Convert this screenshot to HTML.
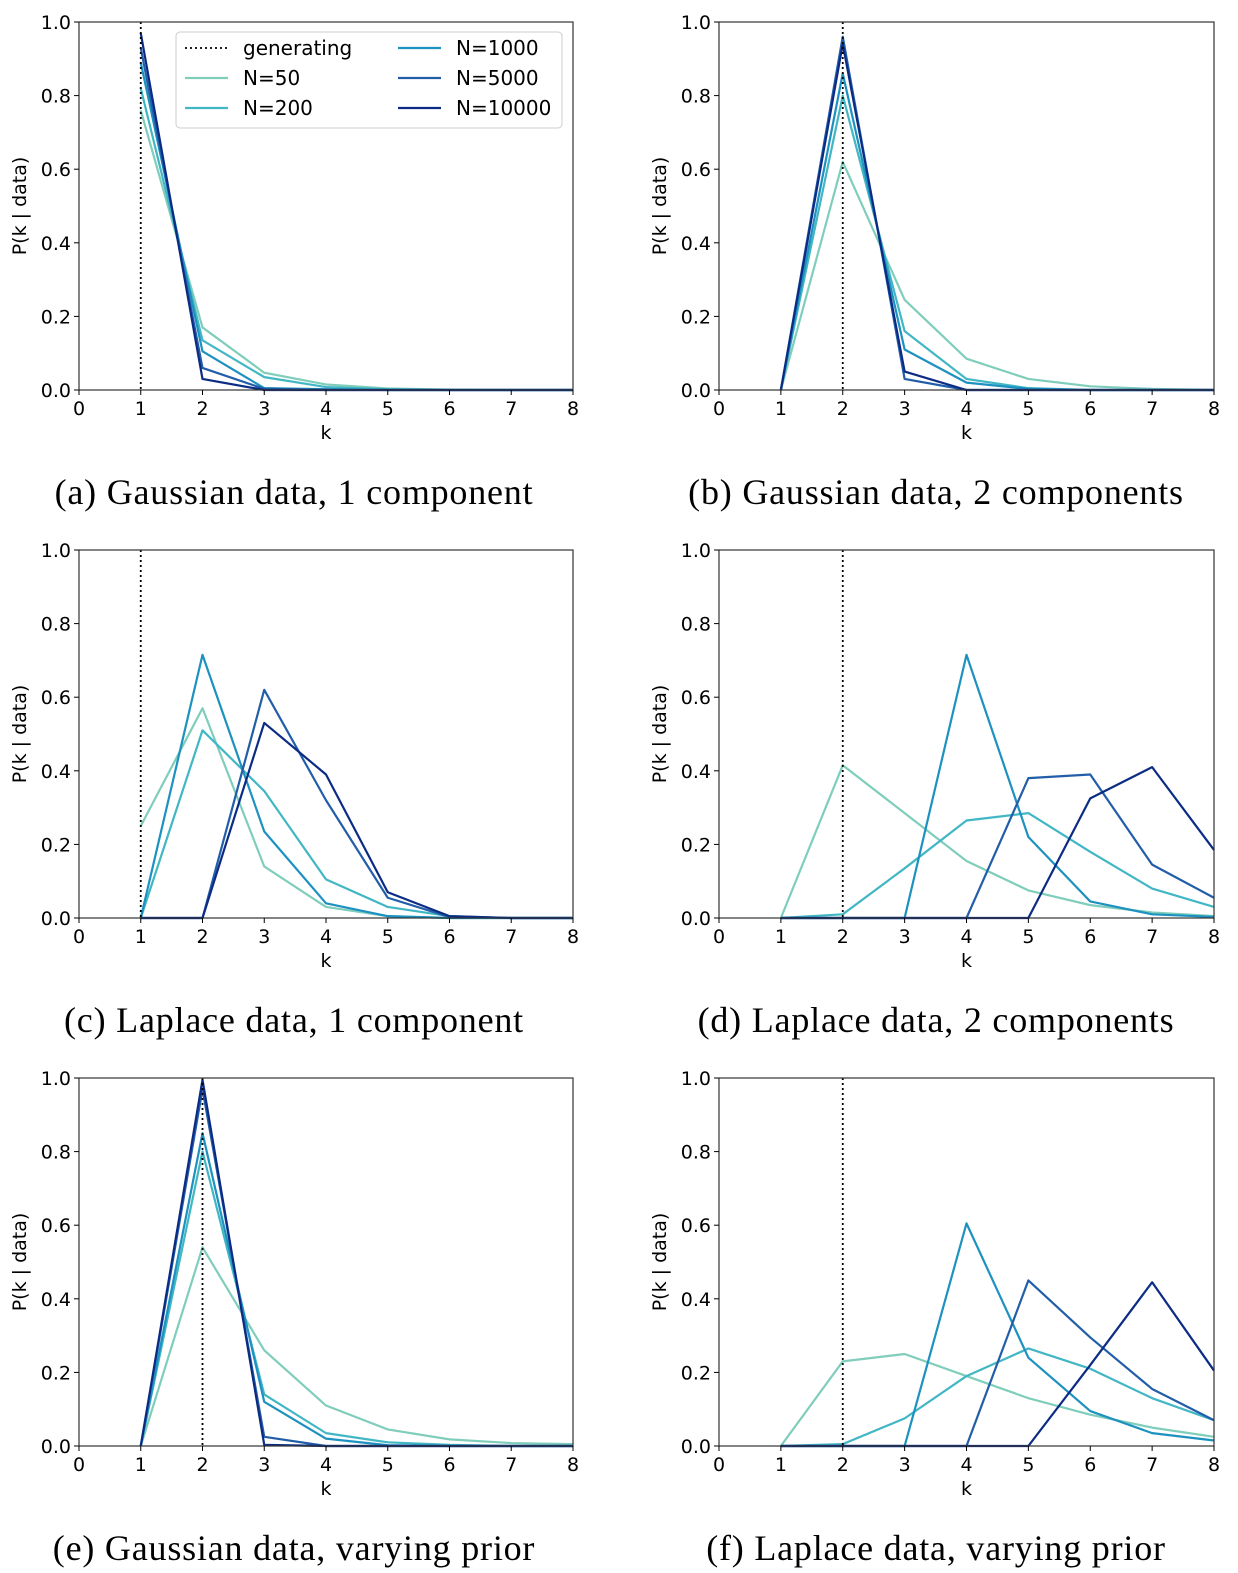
<!DOCTYPE html>
<html><head><meta charset="utf-8"><style>
html,body{margin:0;padding:0;background:#fff;}
svg{display:block;}
.tick{font-family:"DejaVu Sans","Liberation Sans",sans-serif;font-size:19px;fill:#000;}
.cap{font-family:"Liberation Serif","DejaVu Serif",serif;font-size:36px;letter-spacing:0.8px;fill:#000;}
.leg{font-family:"DejaVu Sans","Liberation Sans",sans-serif;font-size:20px;fill:#000;}
</style></head><body>
<svg id="fig" width="1238" height="1573" viewBox="0 0 1238 1573" xmlns="http://www.w3.org/2000/svg"></svg>
<script>
const kValues=[1,2,3,4,5,6,7,8];
const seriesNames=["N=50","N=200","N=1000","N=5000","N=10000"];
const seriesColors=["#7fcdbb","#41b6c4","#1d91c0","#225ea8","#0c2c84"];
const xTicks=[0,1,2,3,4,5,6,7,8];
const yTicks=[0,0.2,0.4,0.6,0.8,1.0];
const yTickLabels=["0.0","0.2","0.4","0.6","0.8","1.0"];
const captions=["(a) Gaussian data, 1 component","(b) Gaussian data, 2 components","(c) Laplace data, 1 component","(d) Laplace data, 2 components","(e) Gaussian data, varying prior","(f) Laplace data, varying prior"];
const generatingK=[1,2,1,2,2,2];
const panelA=[[0.76,0.17,0.047,0.015,0.004,0.001,0,0],[0.82,0.135,0.035,0.008,0.002,0,0,0],[0.89,0.105,0.005,0.002,0,0,0,0],[0.93,0.06,0.003,0,0,0,0,0],[0.97,0.03,0,0,0,0,0,0]];
const panelB=[[0,0.62,0.245,0.085,0.03,0.01,0.003,0],[0,0.80,0.16,0.03,0.005,0,0,0],[0,0.86,0.11,0.02,0.003,0,0,0],[0,0.96,0.03,0,0,0,0,0],[0,0.94,0.05,0,0,0,0,0]];
const panelC=[[0.25,0.57,0.14,0.03,0.005,0,0,0],[0,0.51,0.345,0.105,0.03,0.005,0,0],[0,0.715,0.235,0.04,0.005,0,0,0],[0,0,0.62,0.32,0.055,0.003,0,0],[0,0,0.53,0.39,0.07,0.005,0,0]];
const panelD=[[0,0.415,0.285,0.155,0.075,0.035,0.015,0.005],[0,0.01,0.135,0.265,0.285,0.18,0.08,0.03],[0,0,0,0.715,0.22,0.045,0.01,0.003],[0,0,0,0,0.38,0.39,0.145,0.055],[0,0,0,0,0,0.325,0.41,0.185]];
const panelE=[[0,0.54,0.26,0.11,0.045,0.018,0.008,0.005],[0,0.80,0.14,0.035,0.01,0.003,0,0],[0,0.85,0.12,0.02,0.002,0,0,0],[0,0.97,0.025,0,0,0,0,0],[0,0.995,0.003,0,0,0,0,0]];
const panelF=[[0,0.23,0.25,0.19,0.13,0.085,0.05,0.025],[0,0.005,0.075,0.19,0.265,0.21,0.13,0.07],[0,0,0,0.605,0.24,0.095,0.035,0.015],[0,0,0,0,0.45,0.295,0.155,0.07],[0,0,0,0,0,0.22,0.445,0.205]];
const panels=[panelA,panelB,panelC,panelD,panelE,panelF];

const NS="http://www.w3.org/2000/svg";
const svg=document.getElementById('fig');
function mk(tag,attrs,parent){const e=document.createElementNS(NS,tag);for(const k in attrs)e.setAttribute(k,attrs[k]);(parent||svg).appendChild(e);return e;}
const lefts=[79,719], rights=[573,1214], tops=[22,550,1078], bottoms=[390,918,1446];
const letters=["a","b","c","d","e","f"];
panels.forEach((data,i)=>{
  const col=i%2,row=Math.floor(i/2);
  const x0=lefts[col],x1=rights[col],yT=tops[row],yB=bottoms[row];
  const xs=v=>x0+(v-0)/(8-0)*(x1-x0);
  const ys=v=>yB-v*(yB-yT);
  const g=mk('g',{});
  
  
  data.forEach((vals,s)=>{
    const p=mk('polyline',{points:vals.map((v,j)=>xs(kValues[j])+','+ys(v)).join(' '),fill:'none',stroke:seriesColors[s],'stroke-width':2.2,'stroke-linejoin':'round'},g);
    
    
  });
  const gl=mk('line',{x1:xs(generatingK[i]),x2:xs(generatingK[i]),y1:yT,y2:yB,stroke:'#000','stroke-width':1.8,'stroke-dasharray':'2,3'},g);
  
  
  const fr=mk('rect',{x:x0,y:yT,width:x1-x0,height:yB-yT,fill:'none',stroke:'#333','stroke-width':1.2},g);
  
  
  xTicks.forEach(t=>{
    mk('line',{x1:xs(t),x2:xs(t),y1:yB,y2:yB+5,stroke:'#000','stroke-width':1},g);
    const tx=mk('text',{x:xs(t),y:yB+25,'text-anchor':'middle',class:'tick'},g);tx.textContent=t;
    
    
  });
  yTicks.forEach((t,j)=>{
    mk('line',{x1:x0-5,x2:x0,y1:ys(t),y2:ys(t),stroke:'#000','stroke-width':1},g);
    const tx=mk('text',{x:x0-8,y:ys(t)+7,'text-anchor':'end',class:'tick'},g);tx.textContent=yTickLabels[j];
    
    
  });
  const xl=mk('text',{x:(x0+x1)/2,y:yB+49,'text-anchor':'middle',class:'tick'},g);xl.textContent='k';
  
  
  const yl=mk('text',{x:0,y:0,'text-anchor':'middle',class:'tick',transform:'translate('+(x0-53)+','+((yT+yB)/2)+') rotate(-90)'},g);yl.textContent='P(k | data)';
  
  
  const cp=mk('text',{x:col?936:294,y:yB+114,'text-anchor':'middle',class:'cap'},g);cp.textContent=captions[i];
  
  
});
const lg=mk('g',{});


mk('rect',{x:176,y:32,width:386,height:96,rx:4,fill:'#fff',stroke:'#ccc','stroke-width':1},lg);
const legItems=[{label:'generating',color:'#000',dash:true}].concat(seriesNames.map((n,s)=>({label:n,color:seriesColors[s]})));
legItems.forEach((it,j)=>{
  const c=j<3?0:1,r=j%3;
  const lx=c?398:185,ty=48+r*30;
  const e=mk('g',{},lg);
  
  
  mk('line',{x1:lx,x2:lx+43,y1:ty,y2:ty,stroke:it.color,'stroke-width':it.dash?1.8:2.2,'stroke-dasharray':it.dash?'2,3':'none'},e);
  const t=mk('text',{x:lx+58,y:ty+7,class:'leg'},e);t.textContent=it.label;
});
</script>
</body></html>
